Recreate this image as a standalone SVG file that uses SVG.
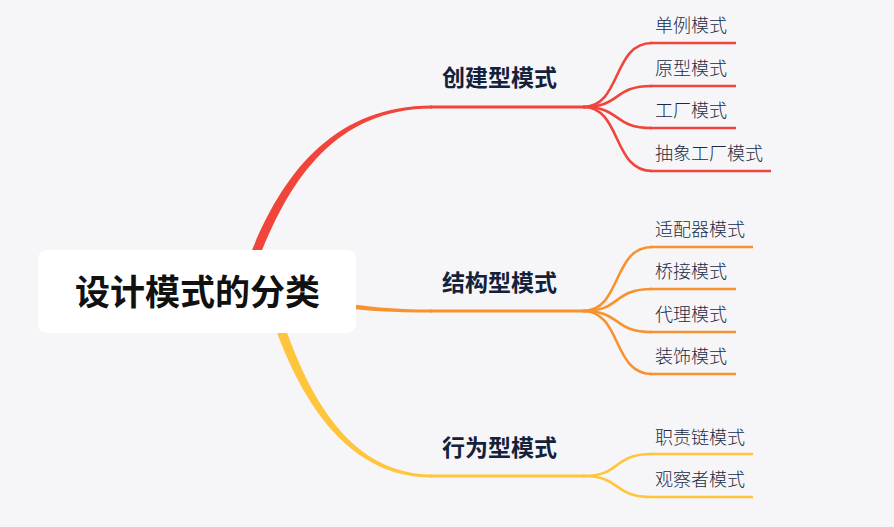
<svg xmlns="http://www.w3.org/2000/svg" width="894" height="527" viewBox="0 0 894 527">
<style>
.bg{fill:#F6F6F9}
.root-box{fill:#FFFFFF}
.root-text{font-family:"Noto Sans CJK SC","Noto Sans",sans-serif;font-weight:700;font-size:35px;fill:#111111}
.cat-text{font-family:"Noto Sans CJK SC","Noto Sans",sans-serif;font-weight:700;font-size:23px;fill:#13213A}
.leaf-text{font-family:"Noto Sans CJK SC","Noto Sans",sans-serif;font-weight:300;font-size:18px;fill:#1B2A44}
.line{fill:none;stroke-width:2.6;stroke-linecap:butt}
.main{fill:none;stroke-width:3}
.red{stroke:#F1443A}
.orange{stroke:#F8922F}
.yellow{stroke:#FFC63D}
.fred{fill:#F1443A}
.forange{fill:#F8922F}
.fyellow{fill:#FFC63D}
</style>
<rect class="bg" x="0" y="0" width="894" height="527"/>
<g id="connectors">
  <path class="fred" d="M 237 292 C 267 198, 318 105.5, 432 105.5 L 432 108.5 C 322 108.5, 277 202, 247 292 Z"/>
  <path class="forange" d="M 250 288 C 320 296, 350 309.5, 432 309.5 L 432 312.5 C 350 312.5, 320 304, 250 296 Z"/>
  <path class="fyellow" d="M 263 292 C 285 362, 328 477.5, 432 477.5 L 432 474.5 C 332 474.5, 295 358, 273 292 Z"/>
  <line class="main red" x1="430" y1="107" x2="585" y2="107"/>
  <line class="main orange" x1="430" y1="311" x2="585" y2="311"/>
  <line class="main yellow" x1="430" y1="476" x2="585" y2="476"/>
  <path class="line red" d="M 583 107 C 622 107, 612 43, 652 43"/>
  <path class="line red" d="M 583 107 C 622 107, 612 86, 652 86"/>
  <path class="line red" d="M 583 107 C 622 107, 612 128, 652 128"/>
  <path class="line red" d="M 583 107 C 622 107, 612 171, 652 171"/>
  <path class="line orange" d="M 583 311 C 622 311, 612 247, 652 247"/>
  <path class="line orange" d="M 583 311 C 622 311, 612 289, 652 289"/>
  <path class="line orange" d="M 583 311 C 622 311, 612 332, 652 332"/>
  <path class="line orange" d="M 583 311 C 622 311, 612 374, 652 374"/>
  <path class="line yellow" d="M 583 476 C 622 476, 612 454, 652 454"/>
  <path class="line yellow" d="M 583 476 C 622 476, 612 497, 652 497"/>
</g>
<g id="root">
  <rect class="root-box" x="38" y="250" width="318" height="83" rx="9"/>
  <text class="root-text" x="197.5" y="305" text-anchor="middle">设计模式的分类</text>
</g>
<g id="cat-creational"><text class="cat-text" x="442" y="86">创建型模式</text></g>
<g id="cat-structural"><text class="cat-text" x="442" y="290.5">结构型模式</text></g>
<g id="cat-behavioral"><text class="cat-text" x="442" y="456">行为型模式</text></g>

<g id="leaf-singleton"><text class="leaf-text" x="655" y="32">单例模式</text><line class="line red" x1="650" y1="43" x2="736" y2="43"/></g>
<g id="leaf-prototype"><text class="leaf-text" x="655" y="74.5">原型模式</text><line class="line red" x1="650" y1="86" x2="736" y2="86"/></g>
<g id="leaf-factory"><text class="leaf-text" x="655" y="116.5">工厂模式</text><line class="line red" x1="650" y1="128" x2="736" y2="128"/></g>
<g id="leaf-abstract-factory"><text class="leaf-text" x="655" y="160">抽象工厂模式</text><line class="line red" x1="650" y1="171" x2="771" y2="171"/></g>

<g id="leaf-adapter"><text class="leaf-text" x="655" y="235.5">适配器模式</text><line class="line orange" x1="650" y1="247" x2="753" y2="247"/></g>
<g id="leaf-bridge"><text class="leaf-text" x="655" y="278">桥接模式</text><line class="line orange" x1="650" y1="289" x2="736" y2="289"/></g>
<g id="leaf-proxy"><text class="leaf-text" x="655" y="320.5">代理模式</text><line class="line orange" x1="650" y1="332" x2="736" y2="332"/></g>
<g id="leaf-decorator"><text class="leaf-text" x="655" y="363">装饰模式</text><line class="line orange" x1="650" y1="374" x2="736" y2="374"/></g>

<g id="leaf-chain"><text class="leaf-text" x="655" y="443.5">职责链模式</text><line class="line yellow" x1="650" y1="454" x2="753" y2="454"/></g>
<g id="leaf-observer"><text class="leaf-text" x="655" y="485.5">观察者模式</text><line class="line yellow" x1="650" y1="497" x2="753" y2="497"/></g>
</svg>
